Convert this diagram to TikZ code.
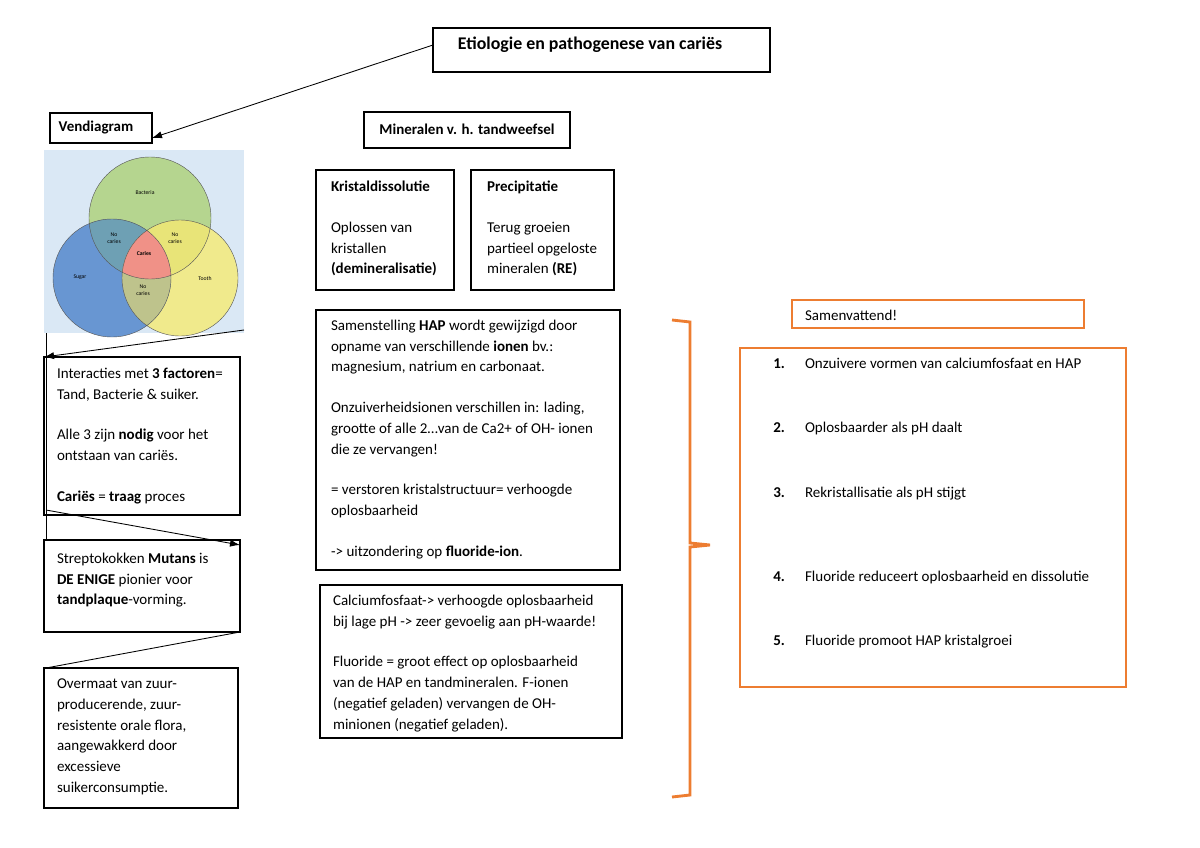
\documentclass[tikz,border=0pt]{standalone}
\usepackage{fontspec}
\setmainfont{Carlito}
\usetikzlibrary{arrows.meta}
\definecolor{org}{RGB}{237,125,49}
\begin{document}
\begin{tikzpicture}[x=0.7pt,y=-0.7pt,
 box/.style={draw,line width=0.8pt,anchor=north west,inner sep=0pt},
 txt/.style={anchor=north west,align=left,font=\fontsize{10.5}{14.5}\selectfont},
 arr/.style={-{Latex[length=7pt,width=5pt]},line width=0.6pt},
 lab/.style={font=\fontsize{4}{5}\selectfont,align=center}]
\useasboundingbox (0,0) rectangle (1200,848);
% title
\draw[line width=0.8pt] (433,28) rectangle (770,72);
\node[font=\fontsize{12.5}{15}\selectfont\bfseries] (title) at (590,45) {Etiologie en pathogenese van cariës};
\coordinate (tl) at (433,45);
\draw[line width=0.8pt] (50,113) rectangle (152,143);
\node[font=\fontsize{10.5}{13}\selectfont\bfseries] (ven) at (96,128) {Vendiagram};
\coordinate (vr) at (152,138);
\draw[arr] (tl) -- (vr);
% venn
\fill[fill={rgb,255:red,218;green,232;blue,245}] (44,150) rectangle (244,333);
\def\cb{(150,218) circle (61)}
\def\cs{(112,278) circle (59)}
\def\ct{(180,278) circle (58)}
\fill[fill={rgb,255:red,181;green,213;blue,143}] \cb;
\fill[fill={rgb,255:red,240;green,234;blue,140}] \ct;
\fill[fill={rgb,255:red,104;green,150;blue,210}] \cs;
\begin{scope}\clip \cb;
\fill[fill={rgb,255:red,110;green,160;blue,180}] \cs;
\fill[fill={rgb,255:red,232;green,228;blue,120}] \ct;
\end{scope}
\begin{scope}\clip \cs;
\fill[fill={rgb,255:red,190;green,195;blue,140}] \ct;
\end{scope}
\begin{scope}\clip \cb; \clip \cs;
\fill[fill={rgb,255:red,240;green,145;blue,135}] \ct;
\end{scope}
\draw[gray!70!black,line width=0.3pt] \cb \cs \ct;
\node[lab] (lb) at (145,193) {Bacteria};
\node[lab] (ls) at (80,277) {Sugar};
\node[lab] (lt) at (205,279) {Tooth};
\node[lab] (n1) at (114,238) {No\\caries};
\node[lab] (n2) at (175,238) {No\\caries};
\node[lab] (n3) at (143,290) {No\\caries};
\node[lab,font=\fontsize{4}{5}\selectfont\bfseries] (cc) at (144,254) {Caries};
% left chain
\coordinate (v1) at (244,330);
\coordinate (v2) at (44,357);
\draw[arr] (v1) -- (v2);
\draw[line width=0.6pt] (46,333) -- (46,540);
\draw[line width=0.8pt] (44,357) rectangle (240,515);
\node[txt] (b1) at (52,363) {Interacties met \textbf{3 factoren}=\\Tand, Bacterie \& suiker.\\[14pt]Alle 3 zijn \textbf{nodig} voor het\\ontstaan van cariës.\\[14pt]\textbf{Cariës} = \textbf{traag} proces};
\coordinate (c1) at (46,510);
\coordinate (c2) at (240,545);
\draw[arr] (c1) -- (c2);
\draw[line width=0.8pt] (44,540) rectangle (240,632);
\node[txt] (b2) at (52,548) {Streptokokken \textbf{Mutans} is\\\textbf{DE ENIGE} pionier voor\\\textbf{tandplaque}-vorming.};
\coordinate (d1) at (240,632);
\coordinate (d2) at (46,668);
\draw[line width=0.6pt] (d1) -- (d2);
\draw[line width=0.8pt] (44,668) rectangle (238,808);
\node[txt] (b3) at (52,674) {Overmaat van zuur-\\producerende, zuur-\\resistente orale flora,\\aangewakkerd door\\excessieve\\suikerconsumptie.};
% middle
\draw[line width=0.8pt] (364,112) rectangle (570,148);
\node[font=\fontsize{10.5}{13}\selectfont\bfseries] (min) at (467,129) {Mineralen v. h. tandweefsel};
\draw[line width=0.8pt] (316,170) rectangle (454,290);
\node[txt] (kd) at (326,176) {\textbf{Kristaldissolutie}\\[14pt]Oplossen van\\kristallen\\\textbf{(demineralisatie)}};
\draw[line width=0.8pt] (471,170) rectangle (614,290);
\node[txt] (pr) at (482,176) {\textbf{Precipitatie}\\[14pt]Terug groeien\\partieel opgeloste\\mineralen \textbf{(RE)}};
\draw[line width=0.8pt] (316,310) rectangle (620,570);
\node[txt] (hap) at (326,315) {Samenstelling \textbf{HAP} wordt gewijzigd door\\opname van verschillende \textbf{ionen} bv.:\\magnesium, natrium en carbonaat.\\[14pt]Onzuiverheidsionen verschillen in: lading,\\grootte of alle 2…van de Ca2+ of OH- ionen\\die ze vervangen!\\[14pt]= verstoren kristalstructuur= verhoogde\\oplosbaarheid\\[14pt]-> uitzondering op \textbf{fluoride-ion}.};
\draw[line width=0.8pt] (320,585) rectangle (622,738);
\node[txt] (cf) at (328,590) {Calciumfosfaat-> verhoogde oplosbaarheid\\bij lage pH -> zeer gevoelig aan pH-waarde!\\[14pt]Fluoride = groot effect op oplosbaarheid\\van de HAP en tandmineralen. F-ionen\\(negatief geladen) vervangen de OH-\\minionen (negatief geladen).};
% brace
\draw[org,line width=2pt] (672,320) -- (690,322) -- (690,543) -- (710,545) -- (690,547) -- (690,795) -- (672,797);
% summary
\draw[org,line width=1.3pt] (792,300) rectangle (1084,328);
\node[txt,anchor=west] (sv) at (800,315) {Samenvattend!};
\draw[org,line width=1.3pt] (740,348) rectangle (1126,687);
\foreach \n/\y/\t in {1./364/Onzuivere vormen van calciumfosfaat en HAP,2./428/Oplosbaarder als pH daalt,3./493/Rekristallisatie als pH stijgt,4./577/Fluoride reduceert oplosbaarheid en dissolutie,5./641/Fluoride promoot HAP kristalgroei}{
\node[font=\fontsize{10.5}{13}\selectfont\bfseries,anchor=base east] at (790,\y+4) {\n};
\node[font=\fontsize{10.5}{13}\selectfont,anchor=base west] at (800,\y+4) {\t};}
\end{tikzpicture}
\end{document}
